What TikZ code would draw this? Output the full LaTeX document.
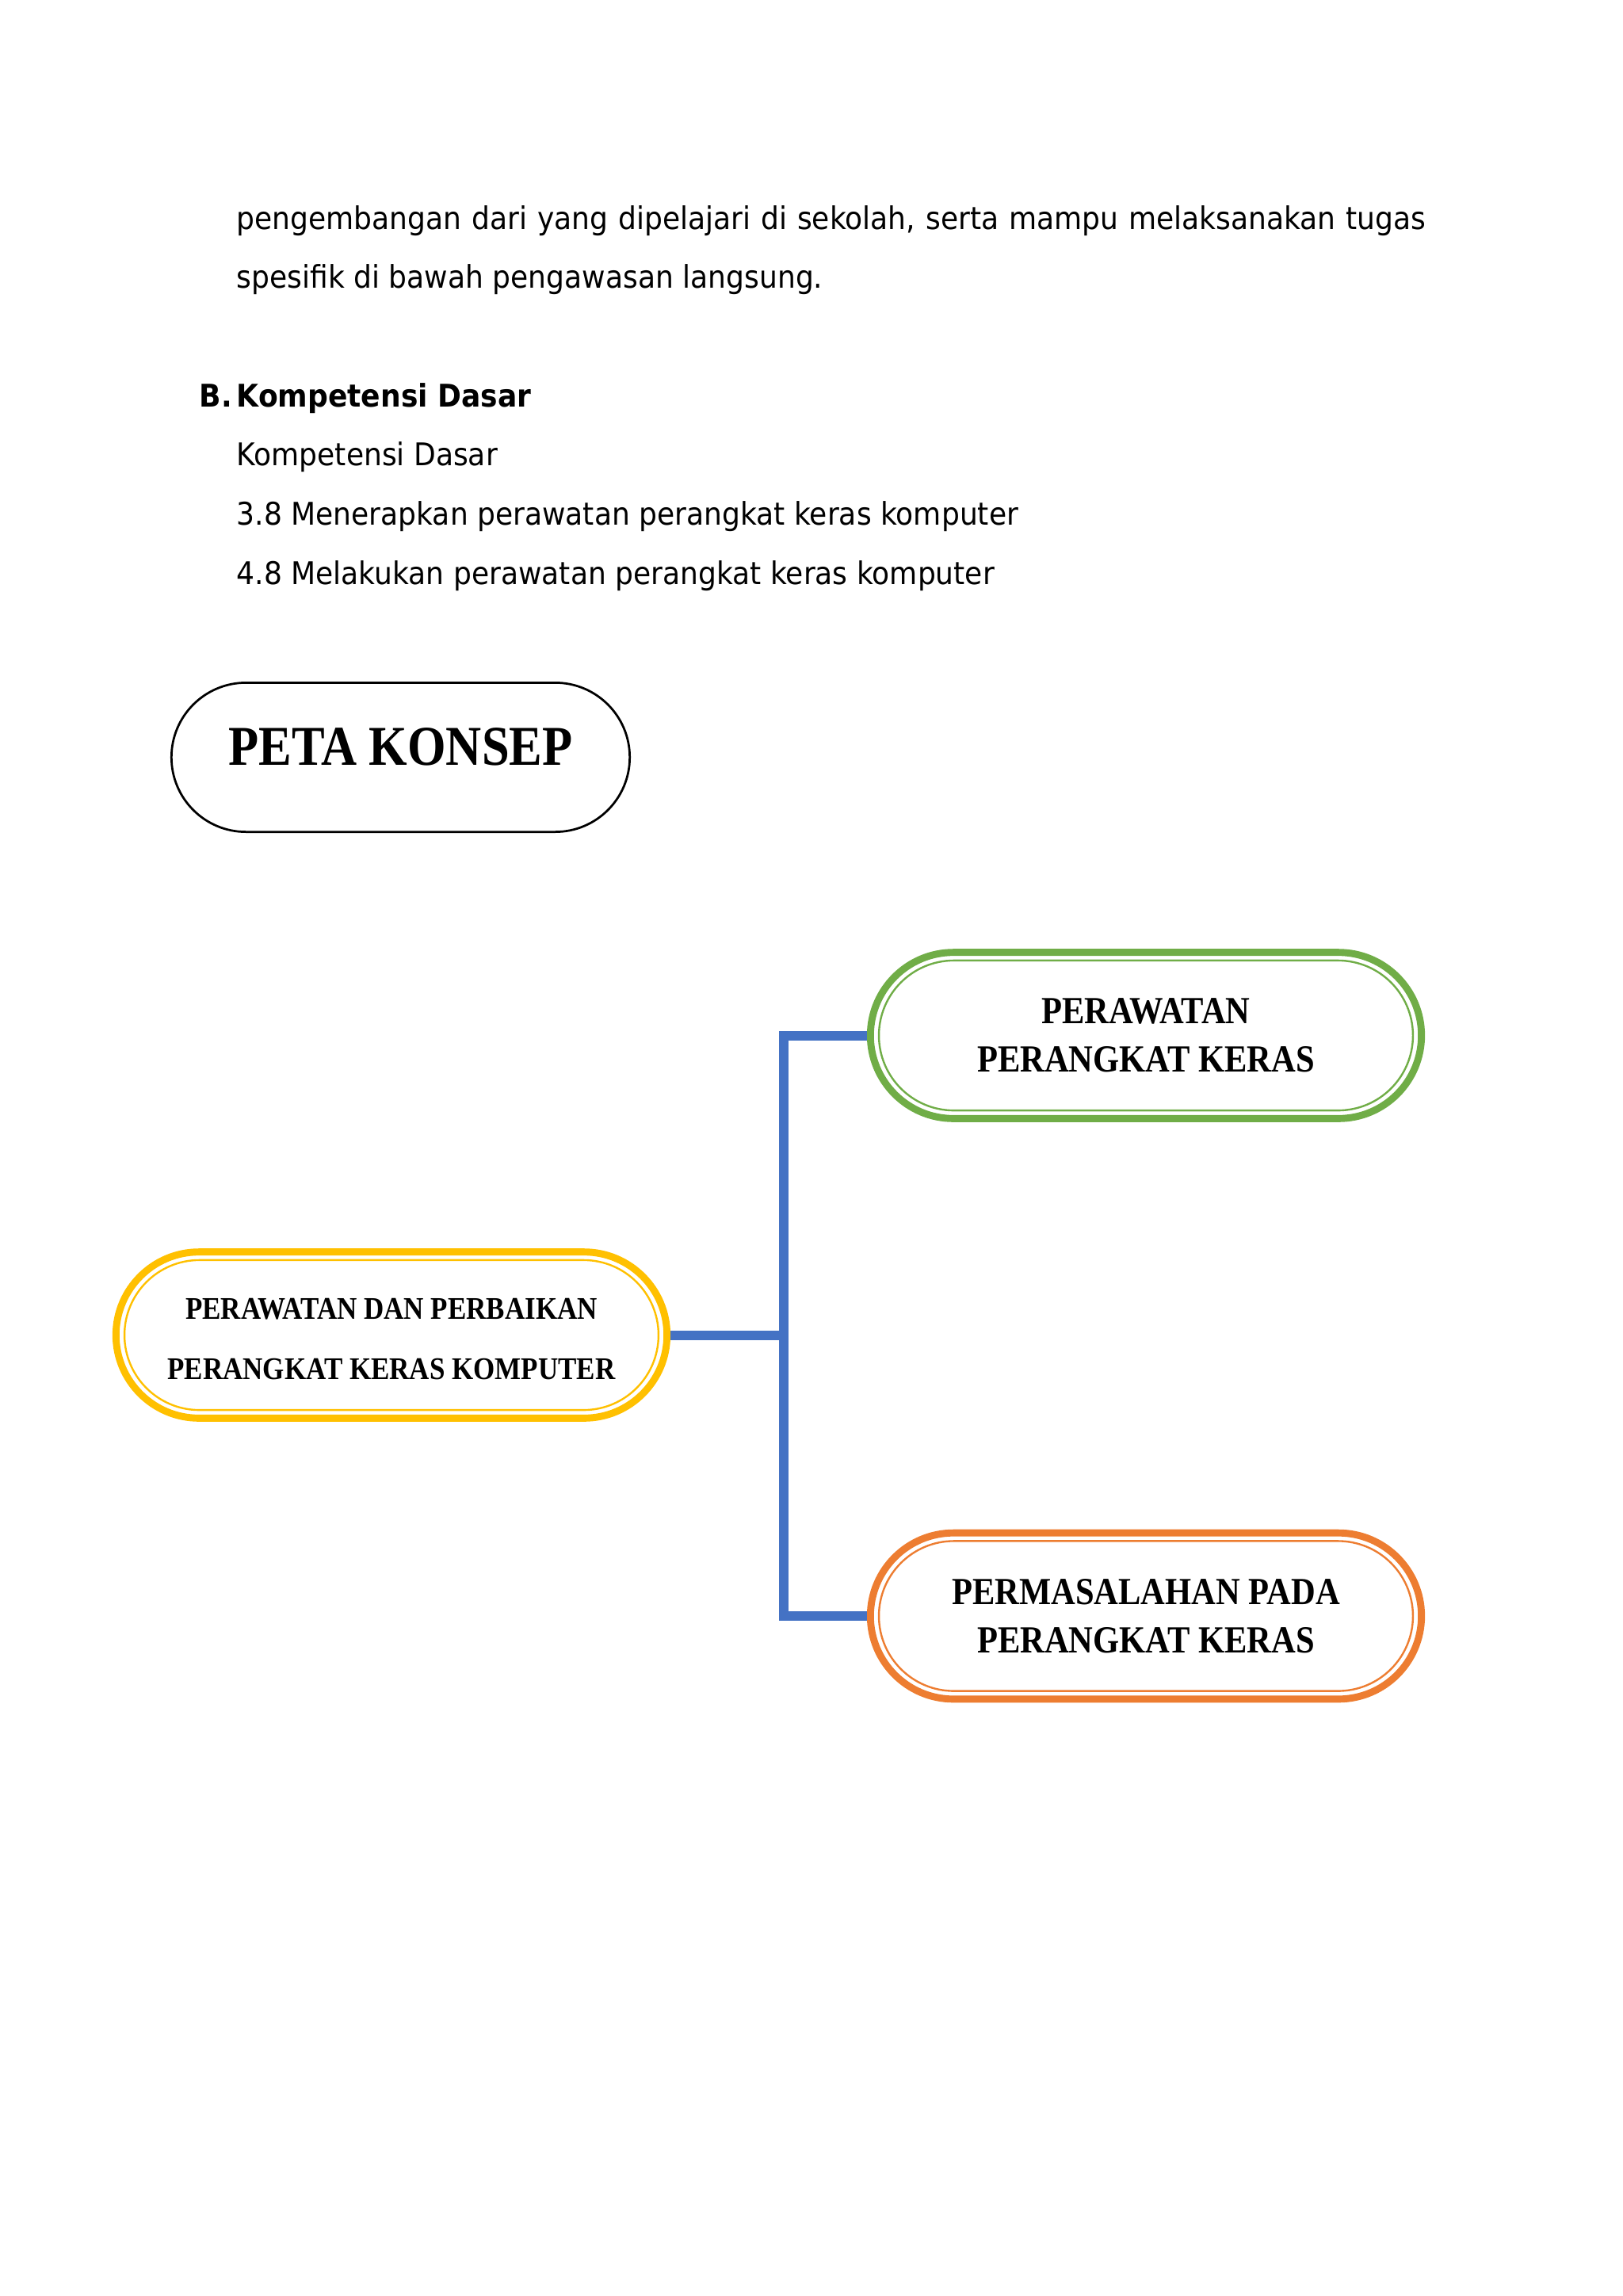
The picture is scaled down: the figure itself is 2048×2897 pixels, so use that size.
\documentclass[tikz,border=0pt]{standalone}
\usepackage{fontspec}
\setmainfont{DejaVu Sans}[FakeStretch=0.915]
\newfontfamily\konsepfont{Liberation Serif}[FakeStretch=0.88]
\usetikzlibrary{shapes.misc}

\definecolor{hijau}{HTML}{70AD47}
\definecolor{kuning}{HTML}{FFC000}
\definecolor{oranye}{HTML}{ED7D31}
\definecolor{biru}{HTML}{4472C4}

\tikzset{
    teks/.style={anchor=base west, inner sep=0pt, font=\fontsize{11.5}{14}\selectfont},
    judul/.style={rounded rectangle, draw=black, line width=0.8pt, minimum width=5.93cm, minimum height=1.93cm, inner sep=0pt, font=\konsepfont\bfseries\fontsize{20.7}{24}\selectfont},
    kapsul/.style={rounded rectangle, line width=2.6pt, minimum width=7.13cm, minimum height=2.15cm, inner sep=0pt, align=center},
    garisdalam/.style={rounded rectangle, line width=0.7pt, minimum width=6.91cm, minimum height=1.94cm, inner sep=0pt},
    cabang/.style={draw=biru, line width=3.5pt}
}

\begin{document}
\begin{tikzpicture}[x=0.0102539cm, y=-0.0102539cm]
        
        \useasboundingbox (0,0) rectangle (2048,2897);
        
        \node[teks] (par1) at (298,289) {\makebox[437.8pt][s]{pengembangan dari yang dipelajari di sekolah, serta mampu melaksanakan tugas}};
        \node[teks] (par2) at (298,363) {spesifik di bawah pengawasan langsung.};
        
        \node[teks, font=\fontsize{11.5}{14}\selectfont\bfseries] (hurufb) at (251,513) {B.};
        \node[teks, font=\fontsize{11.5}{14}\selectfont\bfseries] (kd) at (298,513) {Kompetensi Dasar};
        \node[teks] (kd0) at (298,587) {Kompetensi Dasar};
        \node[teks] (kd1) at (298,662) {3.8 Menerapkan perawatan perangkat keras komputer};
        \node[teks] (kd2) at (298,737) {4.8 Melakukan perawatan perangkat keras komputer};
        
        \node[judul] (peta) at (505.5,955.5) {\raisebox{3.8pt}[\height][\depth]{PETA KONSEP}};
        
        \node[kapsul, draw=kuning, font=\konsepfont\bfseries\fontsize{11.6}{22}\selectfont] (awal) at (494,1684.5) {\raisebox{-1.5pt}[\height][\depth]{PERAWATAN DAN PERBAIKAN}\\\raisebox{-1.5pt}[\height][\depth]{PERANGKAT KERAS KOMPUTER}};
        \node[garisdalam, draw=kuning] (awal dalam) at (awal) {};
        
        \node[kapsul, draw=hijau, font=\konsepfont\bfseries\fontsize{14.1}{17.7}\selectfont] (rawat) at (1446,1306.5) {PERAWATAN\\PERANGKAT KERAS};
        \node[garisdalam, draw=hijau] (rawat dalam) at (rawat) {};
        
        \node[kapsul, draw=oranye, font=\konsepfont\bfseries\fontsize{14.1}{17.7}\selectfont] (masalah) at (1446,2039) {PERMASALAHAN PADA\\PERANGKAT KERAS};
        \node[garisdalam, draw=oranye] (masalah dalam) at (masalah) {};
        
        \coordinate (simpul) at (989,1684.5);
        \draw[cabang] (awal.east) -- (simpul);
        \draw[cabang] (rawat.west) -| (simpul) |- (masalah.west);
    
    \end{tikzpicture}
\end{document}
